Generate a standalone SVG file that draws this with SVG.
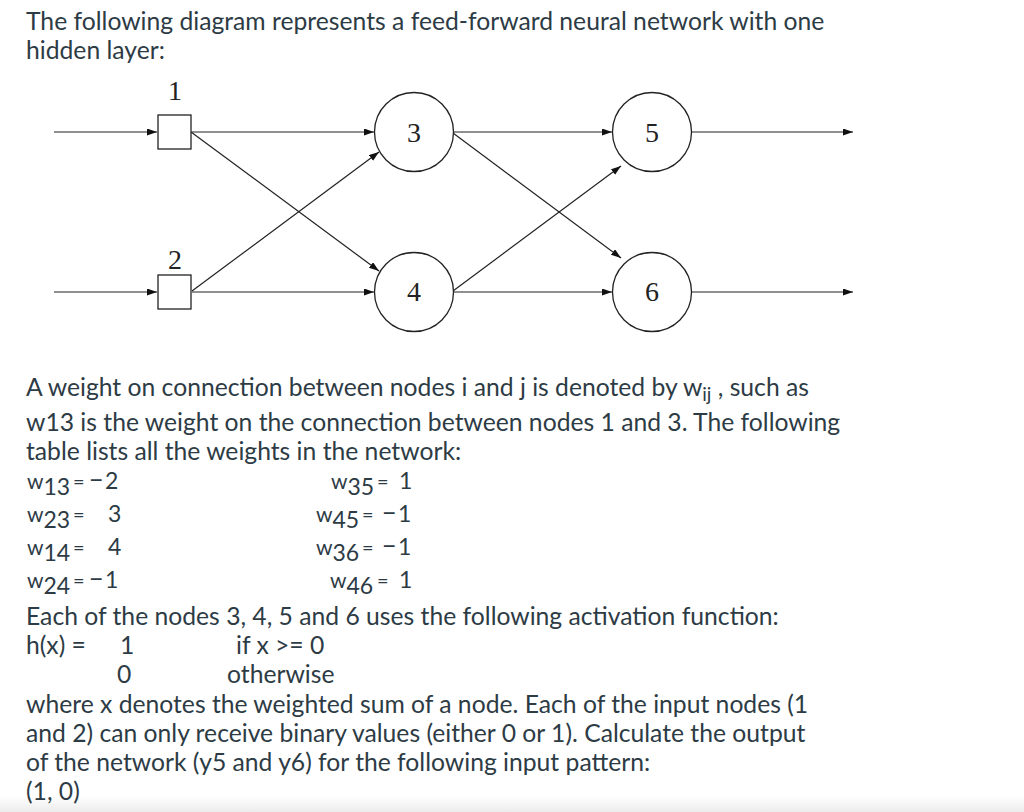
<svg xmlns="http://www.w3.org/2000/svg" width="1024" height="812" viewBox="0 0 1024 812">
<defs>
<marker id="arr" markerUnits="userSpaceOnUse" markerWidth="12" markerHeight="8" refX="10" refY="3.5" orient="auto">
<path d="M0,0 L10,3.5 L0,7 Z" fill="#111"/>
</marker>
<linearGradient id="fade" x1="0" y1="0" x2="0" y2="1">
<stop offset="0" stop-color="#ffffff"/>
<stop offset="1" stop-color="#ececec"/>
</linearGradient>
<style>
.t{font-family:Lato,"Open Sans","Liberation Sans",sans-serif;font-size:24.7px;fill:#2d3b45}
.tb{font-family:Lato,"Open Sans","Liberation Sans",sans-serif;font-size:23px;fill:#2d3b45}
.w{font-size:21px}
.eq{font-size:20px}
.mn{font-size:25px}
.lab{font-family:"Liberation Serif","DejaVu Serif",serif;font-size:28px;fill:#222;text-anchor:middle}
.nd{fill:#fff;stroke:#222;stroke-width:1.3}
.ln{stroke:#222;stroke-width:1.2;fill:none}
</style>
</defs>
<rect width="1024" height="812" fill="#fff"/>
<rect y="796" width="1024" height="16" fill="url(#fade)"/>

<text class="t" x="26" y="30">The following diagram represents a feed-forward neural network with one</text>
<text class="t" x="26" y="59">hidden layer:</text>

<g id="connectors">
<line class="ln" x1="54" y1="132" x2="157" y2="132" marker-end="url(#arr)"/>
<line class="ln" x1="54" y1="292" x2="157" y2="292" marker-end="url(#arr)"/>
<line class="ln" x1="192" y1="132" x2="374" y2="132" marker-end="url(#arr)"/>
<line class="ln" x1="192" y1="292" x2="374" y2="292" marker-end="url(#arr)"/>
<line class="ln" x1="191" y1="132" x2="379" y2="271" marker-end="url(#arr)"/>
<line class="ln" x1="192" y1="291" x2="379" y2="152" marker-end="url(#arr)"/>
<line class="ln" x1="454" y1="132" x2="612" y2="132" marker-end="url(#arr)"/>
<line class="ln" x1="454" y1="292" x2="612" y2="292" marker-end="url(#arr)"/>
<line class="ln" x1="453" y1="133" x2="621" y2="258" marker-end="url(#arr)"/>
<line class="ln" x1="453" y1="291" x2="621" y2="166" marker-end="url(#arr)"/>
<line class="ln" x1="692" y1="132" x2="853" y2="132" marker-end="url(#arr)"/>
<line class="ln" x1="692" y1="292" x2="853" y2="292" marker-end="url(#arr)"/>
</g>

<g id="node1">
<rect class="nd" x="158" y="115" width="33" height="34"/>
<text class="lab" x="175" y="100">1</text>
</g>
<g id="node2">
<rect class="nd" x="158" y="275" width="33" height="34"/>
<text class="lab" x="175" y="269">2</text>
</g>
<g id="node3">
<circle class="nd" cx="414" cy="132" r="39.5"/>
<text class="lab" x="414" y="142">3</text>
</g>
<g id="node4">
<circle class="nd" cx="414" cy="292" r="39.5"/>
<text class="lab" x="414" y="301">4</text>
</g>
<g id="node5">
<circle class="nd" cx="652" cy="132" r="39.5"/>
<text class="lab" x="652" y="142">5</text>
</g>
<g id="node6">
<circle class="nd" cx="652" cy="292" r="39.5"/>
<text class="lab" x="652" y="301">6</text>
</g>

<text class="t" x="26" y="396">A weight on connection between nodes i and j is denoted by w<tspan dy="5" font-size="19">ij</tspan><tspan dy="-5"> , such as</tspan></text>
<text class="t" x="26" y="431">w13 is the weight on the connection between nodes 1 and 3. The following</text>
<text class="t" x="26" y="460">table lists all the weights in the network:</text>

<g id="weights">
<text class="tb" x="27" y="489"><tspan class="w">w</tspan><tspan dy="6">13</tspan><tspan class="eq" x="73" dy="-6">=</tspan><tspan class="mn" x="89">−</tspan><tspan x="105">2</tspan></text>
<text class="tb" x="27" y="522"><tspan class="w">w</tspan><tspan dy="6">23</tspan><tspan class="eq" x="73" dy="-6">=</tspan><tspan x="108">3</tspan></text>
<text class="tb" x="27" y="555"><tspan class="w">w</tspan><tspan dy="6">14</tspan><tspan class="eq" x="73" dy="-6">=</tspan><tspan x="108">4</tspan></text>
<text class="tb" x="27" y="588"><tspan class="w">w</tspan><tspan dy="6">24</tspan><tspan class="eq" x="73" dy="-6">=</tspan><tspan class="mn" x="89">−</tspan><tspan x="105">1</tspan></text>
<text class="tb" x="331" y="489"><tspan class="w">w</tspan><tspan dy="6">35</tspan><tspan class="eq" x="377" dy="-6">=</tspan><tspan x="399">1</tspan></text>
<text class="tb" x="316" y="522"><tspan class="w">w</tspan><tspan dy="6">45</tspan><tspan class="eq" x="362" dy="-6">=</tspan><tspan class="mn" x="382">−</tspan><tspan x="398">1</tspan></text>
<text class="tb" x="316" y="555"><tspan class="w">w</tspan><tspan dy="6">36</tspan><tspan class="eq" x="362" dy="-6">=</tspan><tspan class="mn" x="382">−</tspan><tspan x="398">1</tspan></text>
<text class="tb" x="330" y="588"><tspan class="w">w</tspan><tspan dy="6">46</tspan><tspan class="eq" x="377" dy="-6">=</tspan><tspan x="399">1</tspan></text>
</g>

<text class="t" x="26" y="625">Each of the nodes 3, 4, 5 and 6 uses the following activation function:</text>
<text class="t" x="26" y="654">h(x) =</text>
<text class="t" x="120" y="654">1</text>
<text class="t" x="236" y="654">if x &gt;= 0</text>
<text class="t" x="117" y="683">0</text>
<text class="t" x="227" y="683">otherwise</text>
<text class="t" x="26" y="713">where x denotes the weighted sum of a node. Each of the input nodes (1</text>
<text class="t" x="26" y="742">and 2) can only receive binary values (either 0 or 1). Calculate the output</text>
<text class="t" x="26" y="771">of the network (y5 and y6) for the following input pattern:</text>
<text class="t" x="26" y="800">(1, 0)</text>
</svg>
